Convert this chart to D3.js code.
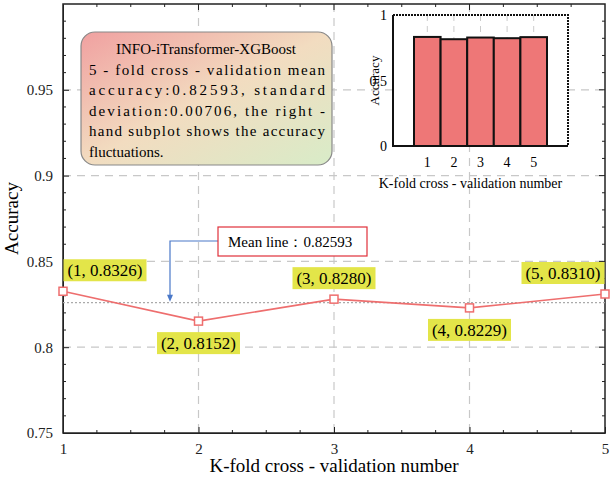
<!DOCTYPE html>
<html>
<head>
<meta charset="utf-8">
<script src="https://cdn.jsdelivr.net/npm/d3@7"></script>
<style>
  body { margin: 0; background: #fff; }
  text { font-family: "Liberation Serif", "Times New Roman", serif; }
</style>
</head>
<body>
<svg id="chart" width="612" height="480"></svg>
<script>
// data
const folds = [1, 2, 3, 4, 5];
const accuracy = [0.8326, 0.8152, 0.8280, 0.8229, 0.8310];
const meanAcc = 0.82593;
const yTicks = [0.75, 0.8, 0.85, 0.9, 0.95];
const insetTicks = [0, 0.5, 1];
const boxLines = [
  "INFO-iTransformer-XGBoost",
  "5 - fold cross - validation mean",
  "accuracy:0.82593,          standard",
  "deviation:0.00706,  the  right  -",
  "hand subplot shows the accuracy",
  "fluctuations."
];

const svg = d3.select("#chart");
const L = 63, R = 605, T = 4, B = 433;

const x = d3.scaleLinear().domain([1, 5]).range([L, R]);
const y = d3.scaleLinear().domain([0.75, 1.0]).range([B, T]);

// grid
const grid = svg.append("g").attr("stroke", "#c8c8c8").attr("stroke-dasharray", "8,6").attr("stroke-width", 1.2);
grid.selectAll(".gx").data(folds.slice(1, 4)).enter().append("line")
  .attr("x1", d => x(d)).attr("x2", d => x(d)).attr("y1", T).attr("y2", B);
grid.selectAll(".gy").data(yTicks.slice(1)).enter().append("line")
  .attr("x1", L).attr("x2", R).attr("y1", d => y(d)).attr("y2", d => y(d));

// axes
const yAxis = d3.axisLeft(y).tickValues(yTicks).tickSizeInner(-6).tickSizeOuter(0).tickPadding(10).tickFormat(d => String(+d.toFixed(2)));
const gy = svg.append("g").attr("transform", `translate(${L},0)`).call(yAxis);
const xAxis = d3.axisBottom(x).tickValues(folds).tickSizeInner(-6).tickSizeOuter(0).tickPadding(10).tickFormat(d3.format("d"));
const gx = svg.append("g").attr("transform", `translate(0,${B})`).call(xAxis);
[gx, gy].forEach(g => {
  g.attr("font-size", null).attr("font-family", null);
  g.selectAll("text").style("font-size", "15px").style("fill", "#222").style("font-family", "Liberation Serif");
  g.selectAll("line, path").attr("stroke", "#222");
});
// minor ticks
const isMajor = v => Math.abs(v * 20 - Math.round(v * 20)) < 0.01;
svg.append("g").selectAll("line").data(d3.range(0.76, 1.0, 0.01).filter(v => !isMajor(v))).enter().append("line")
  .attr("x1", L).attr("x2", L + 3).attr("y1", d => y(d)).attr("y2", d => y(d)).attr("stroke", "#222");
svg.append("g").selectAll("line").data(d3.range(1.25, 5, 0.25).filter(v => v % 1 !== 0)).enter().append("line")
  .attr("x1", d => x(d)).attr("x2", d => x(d)).attr("y1", B).attr("y2", B - 3).attr("stroke", "#222");
svg.append("g").selectAll("line").data(d3.range(1.25, 5, 0.25)).enter().append("line")
  .attr("x1", d => x(d)).attr("x2", d => x(d)).attr("y1", T).attr("y2", d => T + (d % 1 === 0 ? 6 : 3)).attr("stroke", "#222");
svg.append("g").selectAll("line").data(d3.range(0.76, 1.0, 0.01)).enter().append("line")
  .attr("x1", R).attr("x2", d => R - (isMajor(d) ? 6 : 3))
  .attr("y1", d => y(d)).attr("y2", d => y(d)).attr("stroke", "#222");
svg.append("rect").attr("x", L).attr("y", T).attr("width", R - L).attr("height", B - T)
  .attr("fill", "none").attr("stroke", "#222").attr("stroke-width", 1.5);

svg.append("text").attr("x", (L + R) / 2).attr("y", 472).attr("text-anchor", "middle")
  .attr("font-size", 19).text("K-fold cross - validation number");
svg.append("text").attr("transform", `translate(18,${(T + B) / 2}) rotate(-90)`).attr("text-anchor", "middle")
  .attr("font-size", 19).text("Accuracy");

// mean line
svg.append("line").attr("x1", L).attr("x2", R).attr("y1", y(meanAcc)).attr("y2", y(meanAcc))
  .attr("stroke", "#aaa").attr("stroke-dasharray", "2,2").attr("stroke-width", 1.2);

// series
const pts = folds.map((f, i) => [f, accuracy[i]]);
svg.append("path").datum(pts)
  .attr("d", d3.line().x(d => x(d[0])).y(d => y(d[1])))
  .attr("fill", "none").attr("stroke", "#ee6e6e").attr("stroke-width", 1.6);
svg.selectAll(".mk").data(pts).enter().append("rect")
  .attr("x", d => x(d[0]) - 4).attr("y", d => y(d[1]) - 4).attr("width", 8).attr("height", 8)
  .attr("fill", "#fff").attr("stroke", "#ee6e6e").attr("stroke-width", 1.5);

// point labels
const above = [true, false, true, false, true];
pts.forEach((d, i) => {
  const txt = `(${d[0]}, ${d[1].toFixed(4)})`;
  let cx = x(d[0]);
  if (i === 0) cx = x(d[0]) + 42;
  if (i === 4) cx = x(d[0]) - 42;
  const cy = above[i] ? y(d[1]) - 21 : y(d[1]) + 22;
  const w = 83, h = 22;
  svg.append("rect").attr("x", cx - w / 2).attr("y", cy - h / 2).attr("width", w).attr("height", h).attr("fill", "#e3e549");
  svg.append("text").attr("x", cx).attr("y", cy + 6).attr("text-anchor", "middle").attr("font-size", 17).text(txt);
});

// mean annotation
const ay = 241, ax = 170;
svg.append("path").attr("d", `M218,${ay} H${ax} V${y(meanAcc) - 6}`).attr("fill", "none").attr("stroke", "#4a78c8").attr("stroke-width", 1.2);
svg.append("path").attr("d", `M${ax - 3},${y(meanAcc) - 8} L${ax + 3},${y(meanAcc) - 8} L${ax},${y(meanAcc) - 1} Z`).attr("fill", "#4a78c8");
svg.append("rect").attr("x", 218).attr("y", 227).attr("width", 149).attr("height", 29).attr("fill", "#fff").attr("stroke", "#e0303a").attr("stroke-width", 1.2);
svg.append("text").attr("x", 228).attr("y", 247).attr("font-size", 15).text("Mean line：0.82593");

// text box
const defs = svg.append("defs");
const grad = defs.append("linearGradient").attr("id", "bg").attr("x1", "0%").attr("y1", "0%").attr("x2", "100%").attr("y2", "100%");
grad.append("stop").attr("offset", "0%").attr("stop-color", "#f0a0a0");
grad.append("stop").attr("offset", "50%").attr("stop-color", "#f2dcc0");
grad.append("stop").attr("offset", "100%").attr("stop-color", "#d8ecc8");
svg.append("rect").attr("x", 81).attr("y", 32).attr("width", 251).attr("height", 133).attr("rx", 14)
  .attr("fill", "url(#bg)").attr("stroke", "#888").attr("stroke-width", 1.2);
boxLines.forEach((t, i) => {
  svg.append("text").attr("x", i === 0 ? 206 : 89).attr("y", 54 + i * 20.5)
    .attr("text-anchor", i === 0 ? "middle" : "start").attr("font-size", 15)
    .attr("textLength", i >= 1 && i <= 4 ? 236 : null).attr("lengthAdjust", "spacing").text(t);
});

// inset
const iL = 393, iR = 568, iT = 15, iB = 146;
const ix = d3.scaleBand().domain(folds).range([iL + 21, iL + 21 + 26.6 * 5]);
const iy = d3.scaleLinear().domain([0, 1]).range([iB, iT]);
svg.append("rect").attr("x", iL).attr("y", iT).attr("width", iR - iL).attr("height", iB - iT).attr("fill", "#fff");
const ig = svg.append("g").attr("stroke", "#ccc").attr("stroke-dasharray", "6,5");
ig.selectAll("line").data(folds).enter().append("line")
  .attr("x1", d => ix(d) + ix.bandwidth() / 2).attr("x2", d => ix(d) + ix.bandwidth() / 2).attr("y1", iT).attr("y2", iB);
svg.append("g").selectAll("rect").data(pts).enter().append("rect")
  .attr("x", d => ix(d[0])).attr("y", d => iy(d[1])).attr("width", ix.bandwidth()).attr("height", d => iB - iy(d[1]))
  .attr("fill", "#ee7777").attr("stroke", "#111").attr("stroke-width", 2);
svg.append("path").attr("d", `M${iL},${iT} V${iB} H${iR}`).attr("fill", "none").attr("stroke", "#111").attr("stroke-width", 2);
svg.append("path").attr("d", `M${iL},${iT} H${iR} V${iB}`).attr("fill", "none").attr("stroke", "#111").attr("stroke-width", 2).attr("stroke-dasharray", "2,1");
svg.append("g").selectAll("text").data(insetTicks).enter().append("text")
  .attr("x", iL - 6).attr("y", d => iy(d) + 5).attr("text-anchor", "end").attr("font-size", 14).text(d => d);
svg.append("g").selectAll("text").data(folds).enter().append("text")
  .attr("x", d => ix(d) + ix.bandwidth() / 2).attr("y", iB + 21).attr("text-anchor", "middle").attr("font-size", 14).text(d => d);
svg.append("text").attr("x", (iL + iR) / 2 - 10).attr("y", iB + 42).attr("text-anchor", "middle").attr("font-size", 14).text("K-fold cross - validation number");
svg.append("text").attr("transform", `translate(${iL - 14},${(iT + iB) / 2}) rotate(-90)`).attr("text-anchor", "middle").attr("font-size", 13).text("Accuracy");
</script>
</body>
</html>
